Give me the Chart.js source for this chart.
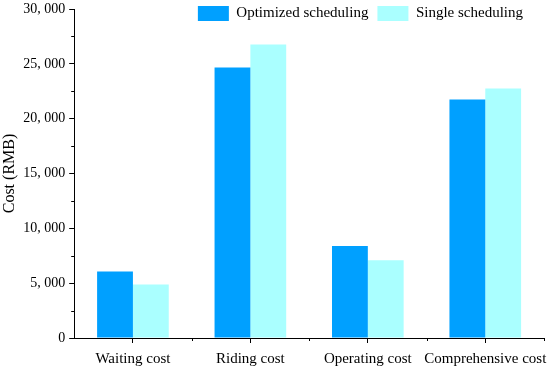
<!DOCTYPE html>
<html>
<head>
<meta charset="utf-8">
<script src="https://cdn.jsdelivr.net/npm/chart.js@4/dist/chart.umd.min.js"></script>
<style>
  html, body { margin: 0; padding: 0; background: #fff; }
  #wrap { width: 550px; height: 372px; }
</style>
</head>
<body>
<div id="wrap"><canvas id="costChart"></canvas></div>
<script>
// data
const categories = ['Waiting cost', 'Riding cost', 'Operating cost', 'Comprehensive cost'];
const optimized = [6070, 24670, 8390, 21740];
const single = [4880, 26770, 7100, 22750];
const seriesNames = ['Optimized scheduling', 'Single scheduling'];
const yTicks = [0, 5000, 10000, 15000, 20000, 25000, 30000];

const serif = 'Liberation Serif, Times New Roman, serif';

// small ticks between the labelled ones
const minorTicks = {
    id: 'minorTicks',
    afterDraw(chart) {
        const ctx = chart.ctx;
        const x = chart.scales.x, y = chart.scales.y;
        ctx.save();
        ctx.strokeStyle = '#000';
        ctx.lineWidth = 1;
        ctx.beginPath();
        for (let i = 0; i < yTicks.length - 1; i++) {
            const py = Math.round(y.getPixelForValue((yTicks[i] + yTicks[i + 1]) / 2)) + 0.5;
            ctx.moveTo(x.left - 3, py);
            ctx.lineTo(x.left, py);
        }
        const w = (x.right - x.left) / categories.length;
        for (let i = 1; i <= categories.length; i++) {
            const px = Math.round(x.left + i * w) + 0.5;
            ctx.moveTo(px, y.bottom);
            ctx.lineTo(px, y.bottom + 3);
        }
        ctx.stroke();
        ctx.restore();
    }
};

// legend takes no room in the layout and sits over the top of the plot
const legendOverlay = {
    id: 'legendOverlay',
    beforeLayout(chart) {
        const l = chart.legend;
        if (l && !l._overlay) {
            const fit = l.fit;
            l.fit = function () {
                fit.call(this);
                this._realHeight = this.height;
                this.height = 0;
            };
            l._overlay = true;
        }
    },
    afterLayout(chart) {
        const l = chart.legend;
        l.top = -3;
        l.height = l._realHeight;
        l.bottom = l.top + l.height;
        l.left -= 12;
        l.right -= 12;
    }
};

const ctx = document.getElementById('costChart').getContext('2d');
const myChart = new Chart(ctx, {
    type: 'bar',
    data: {
        labels: categories,
        datasets: [{
            label: seriesNames[0],
            data: optimized,
            backgroundColor: '#00A0FF',
            borderWidth: 0
        }, {
            label: seriesNames[1],
            data: single,
            backgroundColor: '#AAFFFF',
            borderWidth: 0
        }]
    },
    options: {
        responsive: true,
        maintainAspectRatio: false,
        animation: false,
        categoryPercentage: 0.61,
        barPercentage: 1,
        layout: { padding: { left: 0, right: 6, top: 9, bottom: -3 } },
        plugins: {
            tooltip: { enabled: false },
            legend: {
                position: 'top',
                align: 'end',
                labels: {
                    boxWidth: 31,
                    boxHeight: 15,
                    padding: 9,
                    color: '#000',
                    font: { family: serif, size: 15 }
                }
            }
        },
        scales: {
            x: {
                afterFit: axis => { axis.paddingLeft = 0; axis.paddingRight = 0; },
                grid: { offset: false, drawOnChartArea: false, tickLength: 5, color: '#000' },
                border: { color: '#000', width: 1 },
                ticks: { color: '#000', padding: 7, autoSkip: false, maxRotation: 0, font: { family: serif, size: 15 } }
            },
            y: {
                min: 0,
                max: 30000,
                afterBuildTicks: axis => { axis.ticks = yTicks.map(v => ({ value: v })); },
                afterFit: axis => { axis.paddingTop = 0; axis.paddingBottom = 0; },
                grid: { drawOnChartArea: false, tickLength: 5, color: '#000' },
                border: { color: '#000', width: 1 },
                ticks: {
                    color: '#000',
                    padding: 4,
                    font: { family: serif, size: 14 },
                    callback: v => v === 0 ? '0' : v.toLocaleString('en-US').replace(',', ', ')
                },
                title: {
                    display: true,
                    text: 'Cost (RMB)',
                    color: '#000',
                    padding: { top: 0, bottom: 0 },
                    font: { family: serif, size: 16 }
                }
            }
        }
    },
    plugins: [minorTicks, legendOverlay]
});
</script>
</body>
</html>
